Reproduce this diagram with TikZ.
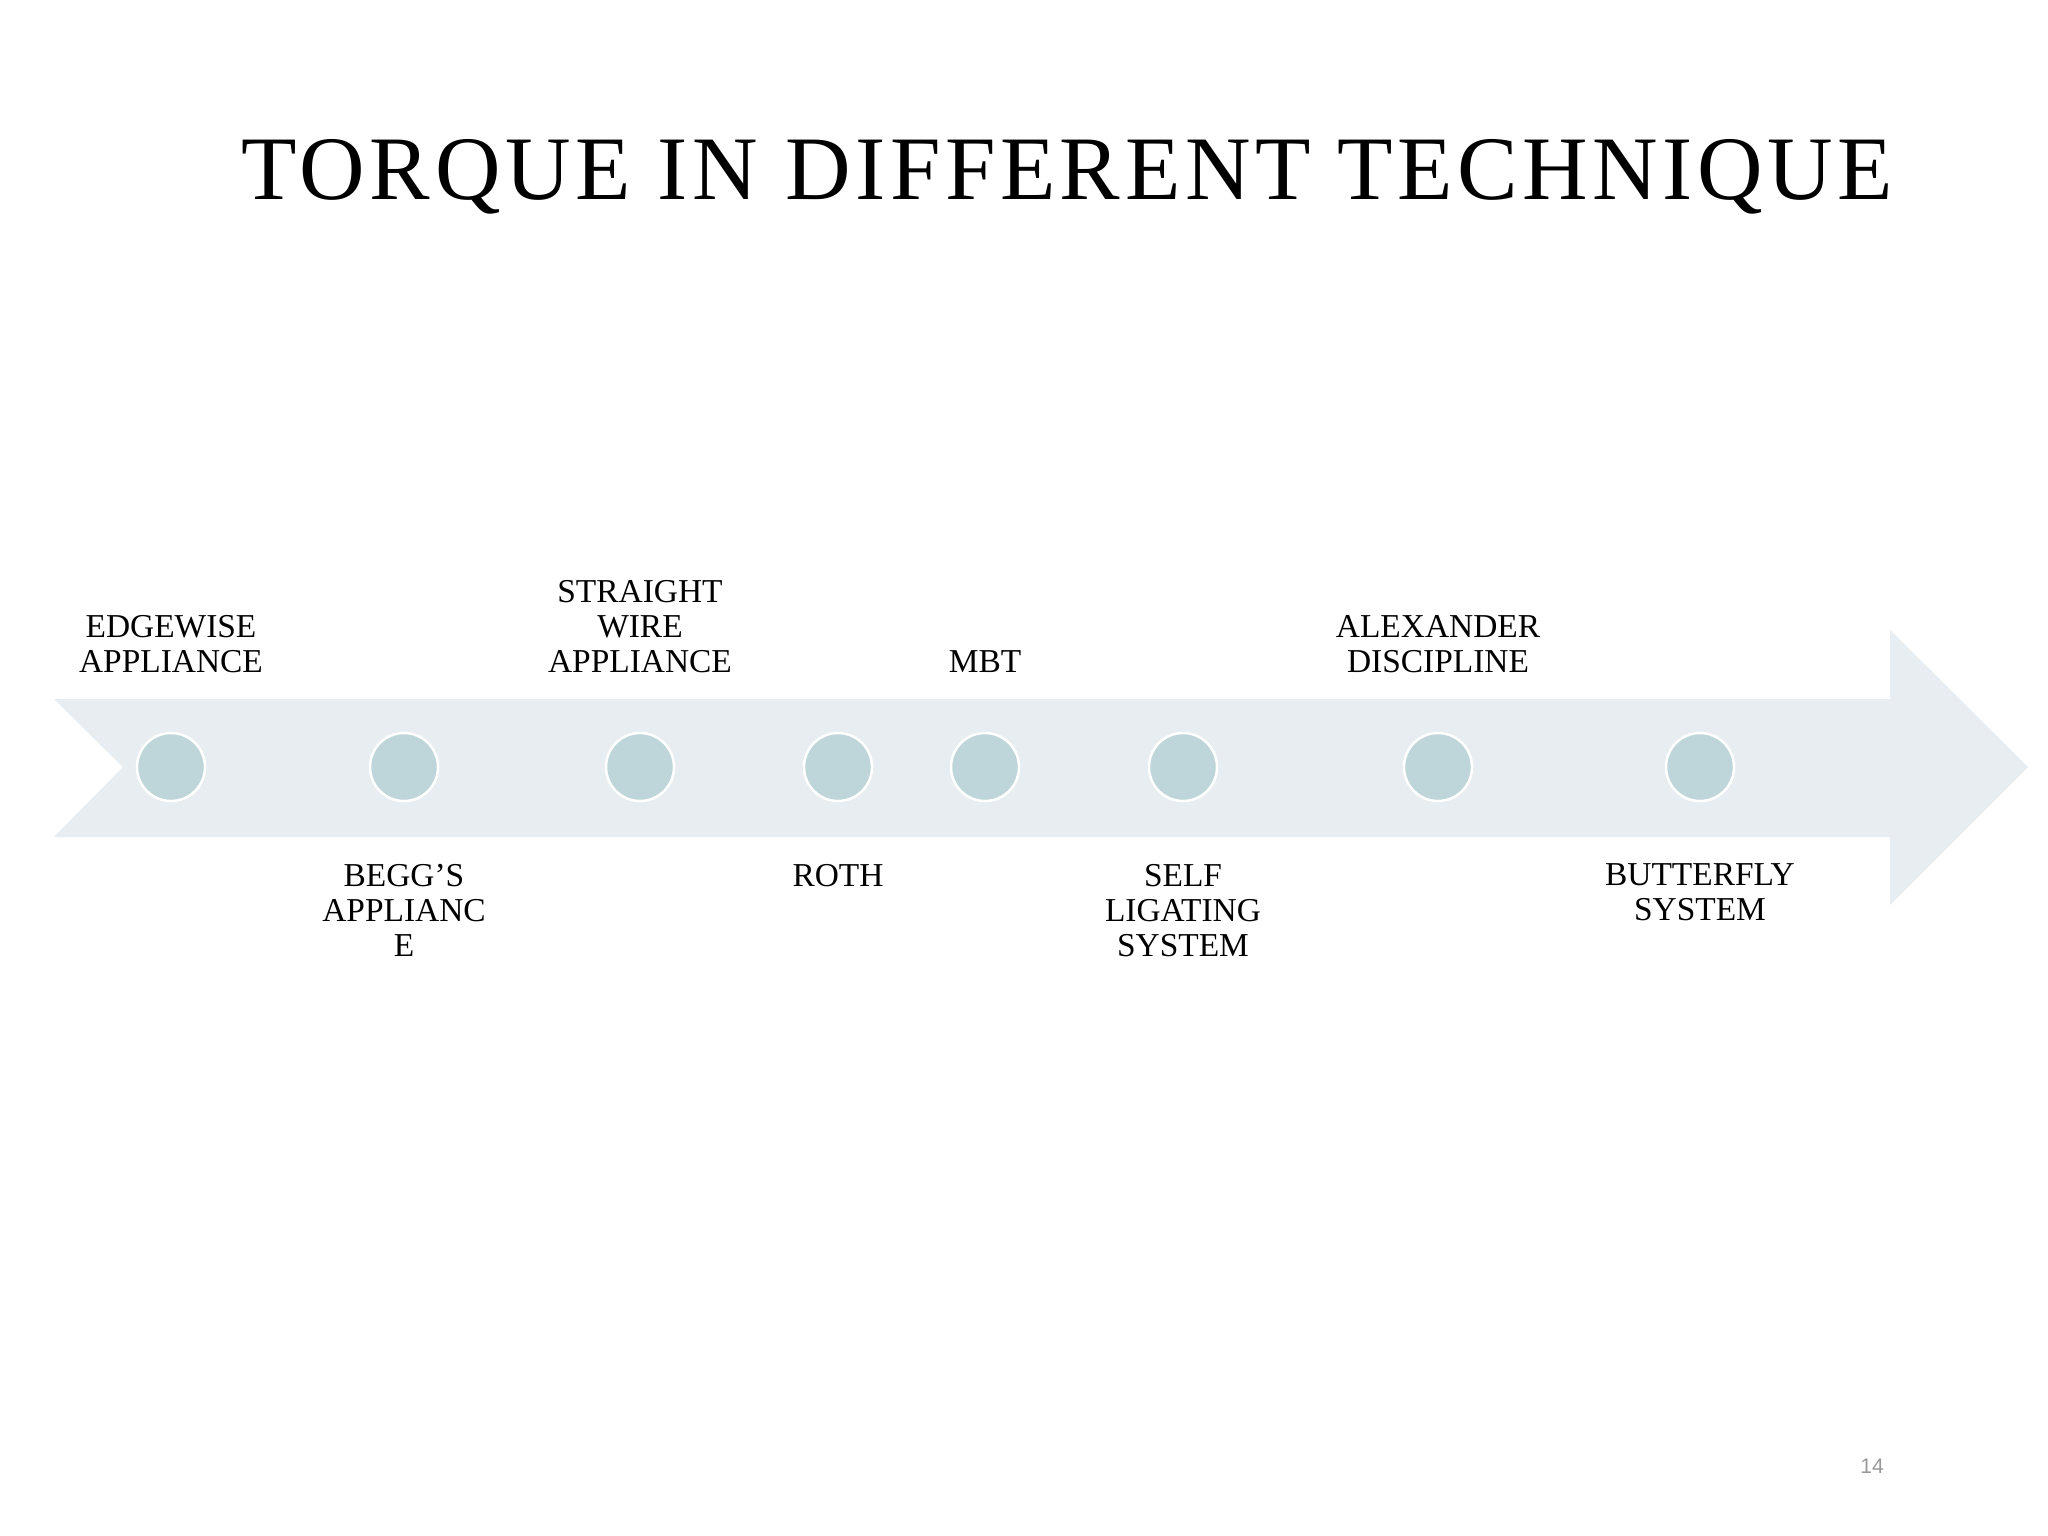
\documentclass[tikz,border=0pt]{standalone}
\usepackage{fontspec}
\setmainfont{Liberation Serif}
\newfontfamily\pagefont{Liberation Sans}
\usepackage{tikz}
\usetikzlibrary{positioning}
\definecolor{bandcol}{HTML}{E7EDF0}
\definecolor{dotcol}{HTML}{BED6D9}
\tikzset{
  dot/.style={circle, fill=dotcol, draw=white, line width=0.025cm, minimum size=0.68cm, inner sep=0, outer sep=0},
  lab/.style={align=center, inner sep=0, outer sep=0, font=\fontsize{9.5}{9.96}\selectfont}
}

\begin{document}
\begin{tikzpicture}[x=0.01cm, y=-0.01cm]
                \useasboundingbox (0,0) rectangle (2048,1536);
                \fill[white] (0,0) rectangle (2048,1536);

                % title
                \node[anchor=base west, inner sep=0] (title) at (241,199) {\fontsize{25.8}{30}\selectfont\addfontfeature{LetterSpace=5.0}TORQUE IN DIFFERENT TECHNIQUE};

                % the band with notch and head
                \fill[bandcol] (54,699) -- (1890,699) -- (1890,630) -- (2028,767) -- (1890,905) -- (1890,837) -- (54,837) -- (123,767) -- cycle;

                % dots along the band
                \node[dot] (edge) at (171,767) {};
                \node[dot] (begg) at (404,767) {};
                \node[dot] (swa) at (640,767) {};
                \node[dot] (roth) at (838,767) {};
                \node[dot] (mbt) at (985,767) {};
                \node[dot] (selflig) at (1183,767) {};
                \node[dot] (alex) at (1438,767) {};
                \node[dot] (butter) at (1700,767) {};

                % labels above
                \node[lab, above=0.6cm of edge] (edgeT) {EDGEWISE\\APPLIANCE};
                \node[lab, above=0.6cm of swa] (swaT) {STRAIGHT\\WIRE\\APPLIANCE};
                \node[lab, above=0.6cm of mbt] (mbtT) {MBT};
                \node[lab, above=0.6cm of alex] (alexT) {ALEXANDER\\DISCIPLINE};

                % labels below
                \node[lab, below=0.63cm of begg] (beggT) {BEGG’S\\APPLIANC\\E};
                \node[lab, below=0.63cm of roth] (rothT) {ROTH};
                \node[lab, below=0.63cm of selflig] (selfligT) {SELF\\LIGATING\\SYSTEM};
                \node[lab, below=0.63cm of butter] (butterT) {BUTTERFLY\\SYSTEM};

                % slide number
                \node[text=black!40, font=\pagefont\fontsize{6}{7}\selectfont] (pagenum) at (1872,1466) {14};
\end{tikzpicture}
\end{document}
